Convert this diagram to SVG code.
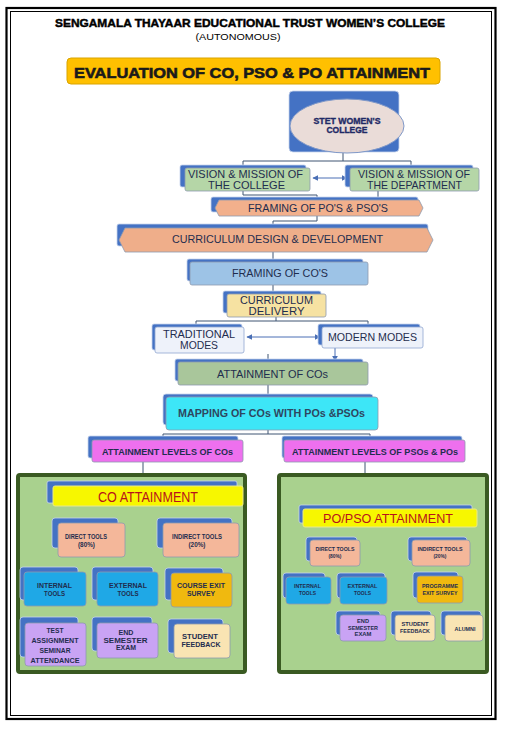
<svg xmlns="http://www.w3.org/2000/svg" width="509" height="730" viewBox="0 0 509 730">
<defs>
<style>
.bk{fill:#4472C4;stroke:#C8D4EC;stroke-width:0.8}
.fr{stroke:#8E9AAE;stroke-width:0.8}
.t{font-family:"Liberation Sans",Arial,Helvetica,sans-serif;fill:#1F2D4E;text-anchor:middle}
.b{font-weight:bold}
.hv{stroke-width:0.45;paint-order:stroke}
.cn{stroke:#3E5573;stroke-width:1;fill:none}
.ar{stroke:#4A6FB5;stroke-width:1;fill:none}
.gb{fill:#A9D18E;stroke:#3A5A22;stroke-width:4}
</style>
<marker id="ah" viewBox="0 0 10 10" refX="9" refY="5" markerWidth="6" markerHeight="6" orient="auto-start-reverse" markerUnits="userSpaceOnUse">
<path d="M0,0 L10,5 L0,10 z" fill="#4A6FB5"/>
</marker>
</defs>
<rect width="509" height="730" fill="#FFFFFF"/>
<rect x="6.5" y="8" width="489" height="711" fill="none" stroke="#000" stroke-width="2.2"/>
<rect x="10.5" y="11.5" width="481" height="704" fill="none" stroke="#000" stroke-width="1"/>

<g id="header">
<text class="t b hv" x="250" y="27" font-size="11.5" style="fill:#000;stroke:#000" textLength="390" lengthAdjust="spacingAndGlyphs">SENGAMALA THAYAAR EDUCATIONAL TRUST WOMEN’S COLLEGE</text>
<text class="t" x="238" y="40" font-size="9.5" style="fill:#000" textLength="85" lengthAdjust="spacingAndGlyphs">(AUTONOMOUS)</text>
</g>
<g id="banner">
<rect x="67" y="58" width="373" height="26" rx="4" fill="#FFC000" stroke="#D9A400"/>
<text class="t b hv" x="252" y="78" font-size="15" style="fill:#1A1A1A;stroke:#1A1A1A;stroke-width:0.6" textLength="356" lengthAdjust="spacingAndGlyphs">EVALUATION OF CO, PSO &amp; PO ATTAINMENT</text>
</g>

<g id="connectors">
<path class="cn" d="M343 153 V161 M243 161 H411 M243 161 V166 M411 161 V166"/>
<path class="cn" d="M243 191 V195 H317 V200 M378 191 V200"/>
<path class="cn" d="M317 216 V221 H273 V228"/>
<path class="cn" d="M273 252 V262"/>
<path class="cn" d="M273 285 V294"/>
<path class="cn" d="M276 317 V321 M196 321 H368 M196 321 V325 M368 321 V325"/>
<path class="cn" d="M268 354 V362"/>
<path class="cn" d="M268 385 V397"/>
<path class="cn" d="M268 430 V434 M163 434 H370 M163 434 V438 M370 434 V438"/>
<path class="cn" d="M143 462 V475 M365 462 V475"/>
<path class="cn" d="M142 506 V512 M85 512 H196 M85 512 V519 M196 512 V519"/>
<path class="cn" d="M85 557 V563 M48 563 H121 M48 563 V568 M121 563 V568 M196 557 V568"/>
<path class="cn" d="M48 606 V618 M121 606 V618 M196 607 V620"/>
<path class="cn" d="M384 527 V532 M330 532 H435 M330 532 V537 M435 532 V537"/>
<path class="cn" d="M333 566 V569 M302 569 H358 M302 569 V574 M358 569 V574 M437 566 V573"/>
<path class="cn" d="M362 604 V612 M437 603 V608 M393 608 H460 M393 608 V612 M460 608 V612"/>
<path class="ar" d="M313 178 H347" marker-start="url(#ah)" marker-end="url(#ah)"/>
<path class="ar" d="M247 337 H320" marker-start="url(#ah)" marker-end="url(#ah)"/>
<path class="ar" d="M335 348 V361" marker-end="url(#ah)"/>
</g>

<g id="stet">
<rect class="bk" x="289" y="91" width="110" height="61" rx="4"/>
<ellipse cx="347" cy="126" rx="57" ry="27" fill="#EADCD8" stroke="#7F98C8"/>
<text class="t b hv" x="347" y="124" font-size="8.5" style="fill:#1F2A66;stroke:#1F2A66;stroke-width:0.35" textLength="67" lengthAdjust="spacingAndGlyphs">STET WOMEN'S</text>
<text class="t b hv" x="347" y="133" font-size="8.5" style="fill:#1F2A66;stroke:#1F2A66;stroke-width:0.35" textLength="41" lengthAdjust="spacingAndGlyphs">COLLEGE</text>
</g>

<g id="vision-college">
<rect class="bk" x="180" y="165" width="126" height="22" rx="2"/>
<rect class="fr" x="185" y="168" width="125" height="23" rx="2" fill="#B5D6A7"/>
<text class="t" x="245.5" y="177.5" font-size="11" textLength="115" lengthAdjust="spacingAndGlyphs">VISION &amp; MISSION OF</text>
<text class="t" x="246.5" y="188.5" font-size="11" textLength="77" lengthAdjust="spacingAndGlyphs">THE COLLEGE</text>
</g>
<g id="vision-department">
<rect class="bk" x="345" y="165" width="128" height="22" rx="2"/>
<rect class="fr" x="350" y="168" width="129" height="23" rx="2" fill="#B5D6A7"/>
<text class="t" x="414" y="177.5" font-size="11" textLength="112" lengthAdjust="spacingAndGlyphs">VISION &amp; MISSION OF</text>
<text class="t" x="414.5" y="188.5" font-size="11" textLength="95" lengthAdjust="spacingAndGlyphs">THE DEPARTMENT</text>
</g>

<g id="framing-po">
<rect class="bk" x="211" y="197" width="207" height="15" rx="2"/>
<polygon class="fr" points="219,200 419,200 423,208 419,216 219,216 215,208" fill="#F2B08C"/>
<text class="t" x="318" y="212" font-size="10.5" textLength="140" lengthAdjust="spacingAndGlyphs">FRAMING OF PO'S &amp; PSO'S</text>
</g>

<g id="curriculum-design">
<rect class="bk" x="117" y="224" width="311" height="22" rx="2"/>
<polygon class="fr" points="125,228 427,228 433,240 427,252 125,252 119,240" fill="#EFAE8A"/>
<text class="t" x="277.5" y="243" font-size="11" textLength="211" lengthAdjust="spacingAndGlyphs">CURRICULUM DESIGN &amp; DEVELOPMENT</text>
</g>

<g id="framing-co">
<rect class="bk" x="187" y="259" width="176" height="22" rx="2"/>
<rect class="fr" x="190" y="262" width="178" height="23" rx="2" fill="#9DC3E6"/>
<text class="t" x="280" y="277" font-size="11" textLength="96" lengthAdjust="spacingAndGlyphs">FRAMING OF CO'S</text>
</g>

<g id="curriculum-delivery">
<rect class="bk" x="223" y="291" width="98" height="22" rx="2"/>
<rect class="fr" x="227" y="294" width="99" height="23" rx="2" fill="#F6E2A2"/>
<text class="t" x="276.5" y="304" font-size="10.5" textLength="73" lengthAdjust="spacingAndGlyphs">CURRICULUM</text>
<text class="t" x="276.5" y="315" font-size="10.5" textLength="56" lengthAdjust="spacingAndGlyphs">DELIVERY</text>
</g>

<g id="traditional-modes">
<rect class="bk" x="152" y="324" width="90" height="26" rx="2"/>
<rect x="155" y="327" width="89" height="26" rx="2" fill="#EEF2FA" stroke="#8FA6D0" stroke-width="0.8"/>
<text class="t" x="199" y="337.5" font-size="10.5" textLength="72" lengthAdjust="spacingAndGlyphs">TRADITIONAL</text>
<text class="t" x="199" y="348.5" font-size="10.5" textLength="38" lengthAdjust="spacingAndGlyphs">MODES</text>
</g>
<g id="modern-modes">
<rect class="bk" x="318" y="324" width="102" height="21" rx="2"/>
<rect x="322" y="327" width="101" height="21" rx="2" fill="#EEF2FA" stroke="#8FA6D0" stroke-width="0.8"/>
<text class="t" x="372.5" y="341" font-size="10.5" textLength="89" lengthAdjust="spacingAndGlyphs">MODERN MODES</text>
</g>

<g id="attainment-cos">
<rect class="bk" x="175" y="359" width="188" height="22" rx="2"/>
<rect class="fr" x="178" y="362" width="190" height="23" rx="2" fill="#A9C69B"/>
<text class="t" x="272.5" y="378" font-size="10.5" textLength="111" lengthAdjust="spacingAndGlyphs">ATTAINMENT OF COs</text>
</g>

<g id="mapping">
<rect class="bk" x="163" y="394" width="210" height="31" rx="3"/>
<rect class="fr" x="166" y="397" width="212" height="33" rx="3" fill="#3DE6F7"/>
<text class="t b" x="271.5" y="417" font-size="10.5" style="fill:#2E4760" textLength="187" lengthAdjust="spacingAndGlyphs">MAPPING OF COs WITH POs &amp;PSOs</text>
</g>

<g id="levels-cos">
<rect class="bk" x="88" y="436" width="150" height="22" rx="2"/>
<rect class="fr" x="92" y="440" width="151" height="22" rx="2" fill="#EE70EE"/>
<text class="t b" x="167.5" y="454.5" font-size="8.5" textLength="131" lengthAdjust="spacingAndGlyphs">ATTAINMENT LEVELS OF COs</text>
</g>
<g id="levels-psos">
<rect class="bk" x="282" y="436" width="180" height="22" rx="2"/>
<rect class="fr" x="284" y="440" width="181" height="22" rx="2" fill="#EE70EE"/>
<text class="t b" x="375" y="454.5" font-size="8.5" textLength="166" lengthAdjust="spacingAndGlyphs">ATTAINMENT LEVELS OF PSOs &amp; POs</text>
</g>

<g id="co-panel">
<rect class="gb" x="18" y="475" width="227" height="197" rx="2"/>
</g>
<g id="po-panel">
<rect class="gb" x="279" y="475" width="208" height="197" rx="2"/>
</g>

<g id="co-attainment">
<rect class="bk" x="47" y="481" width="190" height="22" rx="2"/>
<rect x="53" y="486" width="190" height="20" rx="2" fill="#F7F700" stroke="#E9E98A" stroke-width="1"/>
<text class="t" x="148" y="502" font-size="14" style="fill:#B8121B" textLength="100" lengthAdjust="spacingAndGlyphs">CO ATTAINMENT</text>
</g>
<g id="co-direct">
<rect class="bk" x="52" y="518" width="66" height="30" rx="3"/>
<rect class="fr" x="58" y="523" width="67" height="34" rx="3" fill="#F4B79A"/>
<text class="t b" x="86" y="538.5" font-size="6.5" textLength="42" lengthAdjust="spacingAndGlyphs">DIRECT TOOLS</text>
<text class="t b" x="86.5" y="546.5" font-size="6.5" textLength="17" lengthAdjust="spacingAndGlyphs">(80%)</text>
</g>
<g id="co-indirect">
<rect class="bk" x="157" y="518" width="75" height="30" rx="3"/>
<rect class="fr" x="163" y="523" width="76" height="34" rx="3" fill="#F4B79A"/>
<text class="t b" x="197" y="538.5" font-size="6.5" textLength="50" lengthAdjust="spacingAndGlyphs">INDIRECT TOOLS</text>
<text class="t b" x="197" y="546.5" font-size="6.5" textLength="17" lengthAdjust="spacingAndGlyphs">(20%)</text>
</g>
<g id="co-internal">
<rect class="bk" x="20" y="567" width="58" height="33" rx="3"/>
<rect class="fr" x="24" y="572" width="62" height="34" rx="3" fill="#1FA8E6"/>
<text class="t b" x="54.5" y="588" font-size="6.8" textLength="35" lengthAdjust="spacingAndGlyphs">INTERNAL</text>
<text class="t b" x="54.5" y="596" font-size="6.8" textLength="21" lengthAdjust="spacingAndGlyphs">TOOLS</text>
</g>
<g id="co-external">
<rect class="bk" x="92" y="567" width="61" height="33" rx="3"/>
<rect class="fr" x="97" y="572" width="61" height="34" rx="3" fill="#1FA8E6"/>
<text class="t b" x="128" y="588" font-size="6.8" textLength="38" lengthAdjust="spacingAndGlyphs">EXTERNAL</text>
<text class="t b" x="128" y="596" font-size="6.8" textLength="21" lengthAdjust="spacingAndGlyphs">TOOLS</text>
</g>
<g id="co-course-exit">
<rect class="bk" x="165" y="568" width="58" height="32" rx="3"/>
<rect class="fr" x="171" y="573" width="61" height="34" rx="3" fill="#F0B90F"/>
<text class="t b" x="201" y="588" font-size="6.8" textLength="48" lengthAdjust="spacingAndGlyphs">COURSE EXIT</text>
<text class="t b" x="201" y="596" font-size="6.8" textLength="28" lengthAdjust="spacingAndGlyphs">SURVEY</text>
</g>
<g id="co-test">
<rect class="bk" x="20" y="617" width="58" height="40" rx="3"/>
<rect class="fr" x="25" y="623" width="61" height="43" rx="3" fill="#C9A3F4"/>
<text class="t b" x="55" y="632.5" font-size="6.8" textLength="17" lengthAdjust="spacingAndGlyphs">TEST</text>
<text class="t b" x="55" y="642.5" font-size="6.8" textLength="47" lengthAdjust="spacingAndGlyphs">ASSIGNMENT</text>
<text class="t b" x="55" y="652.5" font-size="6.8" textLength="31" lengthAdjust="spacingAndGlyphs">SEMINAR</text>
<text class="t b" x="55" y="662.5" font-size="6.8" textLength="49" lengthAdjust="spacingAndGlyphs">ATTENDANCE</text>
</g>
<g id="co-end-semester">
<rect class="bk" x="92" y="617" width="60" height="34" rx="3"/>
<rect class="fr" x="97" y="623" width="61" height="35" rx="3" fill="#C9A3F4"/>
<text class="t b" x="126" y="634.5" font-size="6.8" textLength="15" lengthAdjust="spacingAndGlyphs">END</text>
<text class="t b" x="125.5" y="642.5" font-size="6.8" textLength="44" lengthAdjust="spacingAndGlyphs">SEMESTER</text>
<text class="t b" x="126" y="650" font-size="6.8" textLength="20" lengthAdjust="spacingAndGlyphs">EXAM</text>
</g>
<g id="co-student-feedback">
<rect class="bk" x="168" y="619" width="55" height="34" rx="3"/>
<rect class="fr" x="174" y="624" width="56" height="34" rx="3" fill="#F9E4B3"/>
<text class="t b" x="200" y="638.5" font-size="6.8" textLength="36" lengthAdjust="spacingAndGlyphs">STUDENT</text>
<text class="t b" x="201" y="646.5" font-size="6.8" textLength="39" lengthAdjust="spacingAndGlyphs">FEEDBACK</text>
</g>

<g id="po-attainment">
<rect class="bk" x="299" y="505" width="173" height="18" rx="2"/>
<rect x="303" y="509" width="174" height="18" rx="2" fill="#F7F700" stroke="#E9E98A" stroke-width="1"/>
<text class="t" x="388" y="523" font-size="13" style="fill:#B8121B" textLength="130" lengthAdjust="spacingAndGlyphs">PO/PSO ATTAINMENT</text>
</g>
<g id="po-direct">
<rect class="bk" x="306" y="537" width="51" height="24" rx="3"/>
<rect class="fr" x="310" y="540" width="50" height="26" rx="3" fill="#F4B79A"/>
<text class="t b" x="335" y="551" font-size="5.3" textLength="39" lengthAdjust="spacingAndGlyphs">DIRECT TOOLS</text>
<text class="t b" x="335" y="557.5" font-size="5.3" textLength="13" lengthAdjust="spacingAndGlyphs">(80%)</text>
</g>
<g id="po-indirect">
<rect class="bk" x="408" y="537" width="59" height="24" rx="3"/>
<rect class="fr" x="412" y="540" width="58" height="26" rx="3" fill="#F4B79A"/>
<text class="t b" x="440" y="551" font-size="5.3" textLength="45" lengthAdjust="spacingAndGlyphs">INDIRECT TOOLS</text>
<text class="t b" x="440" y="557.5" font-size="5.3" textLength="13" lengthAdjust="spacingAndGlyphs">(20%)</text>
</g>
<g id="po-internal">
<rect class="bk" x="283" y="573" width="42" height="25" rx="3"/>
<rect class="fr" x="286" y="577" width="45" height="27" rx="3" fill="#1FA8E6"/>
<text class="t b" x="307.5" y="588" font-size="5.5" textLength="27" lengthAdjust="spacingAndGlyphs">INTERNAL</text>
<text class="t b" x="307.5" y="594.5" font-size="5.5" textLength="17" lengthAdjust="spacingAndGlyphs">TOOLS</text>
</g>
<g id="po-external">
<rect class="bk" x="337" y="573" width="48" height="25" rx="3"/>
<rect class="fr" x="340" y="577" width="47" height="27" rx="3" fill="#1FA8E6"/>
<text class="t b" x="362.5" y="588" font-size="5.5" textLength="30" lengthAdjust="spacingAndGlyphs">EXTERNAL</text>
<text class="t b" x="362.5" y="594.5" font-size="5.5" textLength="17" lengthAdjust="spacingAndGlyphs">TOOLS</text>
</g>
<g id="po-programme-exit">
<rect class="bk" x="413" y="572" width="45" height="26" rx="3"/>
<rect class="fr" x="417" y="576" width="46" height="27" rx="3" fill="#F0B90F"/>
<text class="t b" x="440" y="588" font-size="5.5" textLength="36" lengthAdjust="spacingAndGlyphs">PROGRAMME</text>
<text class="t b" x="440" y="594.5" font-size="5.5" textLength="35" lengthAdjust="spacingAndGlyphs">EXIT SURVEY</text>
</g>
<g id="po-end-semester">
<rect class="bk" x="336" y="611" width="44" height="24" rx="3"/>
<rect class="fr" x="340" y="615" width="46" height="26" rx="3" fill="#C9A3F4"/>
<text class="t b" x="363" y="623" font-size="5.5" textLength="12" lengthAdjust="spacingAndGlyphs">END</text>
<text class="t b" x="363" y="629.5" font-size="5.5" textLength="30" lengthAdjust="spacingAndGlyphs">SEMESTER</text>
<text class="t b" x="363" y="636" font-size="5.5" textLength="17" lengthAdjust="spacingAndGlyphs">EXAM</text>
</g>
<g id="po-student-feedback">
<rect class="bk" x="391" y="611" width="40" height="24" rx="3"/>
<rect class="fr" x="395" y="615" width="40" height="26" rx="3" fill="#F9E4B3"/>
<text class="t b" x="415" y="626" font-size="5.5" textLength="27" lengthAdjust="spacingAndGlyphs">STUDENT</text>
<text class="t b" x="415" y="632.5" font-size="5.5" textLength="30" lengthAdjust="spacingAndGlyphs">FEEDBACK</text>
</g>
<g id="po-alumni">
<rect class="bk" x="441" y="611" width="40" height="24" rx="3"/>
<rect class="fr" x="445" y="615" width="38" height="26" rx="3" fill="#F9E4B3"/>
<text class="t b" x="465" y="630.5" font-size="5.5" textLength="21" lengthAdjust="spacingAndGlyphs">ALUMNI</text>
</g>
</svg>
